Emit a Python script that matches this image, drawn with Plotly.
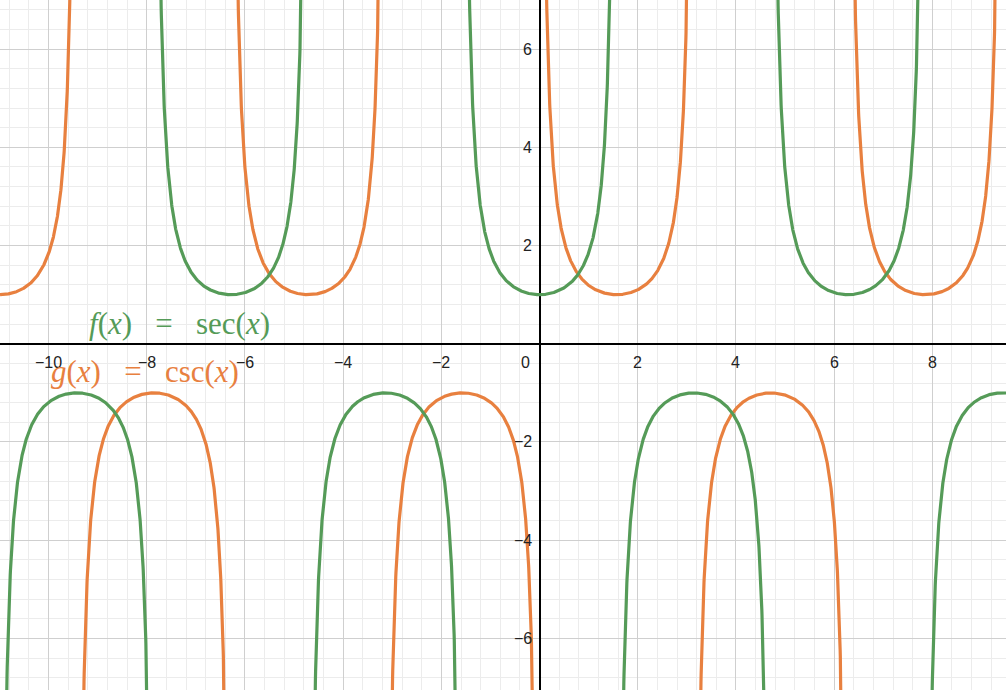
import numpy as np
import plotly.graph_objects as go

# Sampled x domain of the two plotted functions
x_min, x_max = -10.99, 9.50
y_min, y_max = -7.05, 7.0
x_vals = np.linspace(x_min, x_max, 6000)

# Tick labels (Desmos style, drawn beside the axes)
x_ticks = [-10, -8, -6, -4, -2, 2, 4, 6, 8]
y_ticks = [-6, -4, -2, 2, 4, 6]

green = "#559b58"
orange = "#e8803f"


def _broken(y, limit=60):
    """Break the line at the vertical asymptotes."""
    y = np.array(y, dtype=float)
    y[np.abs(y) > limit] = np.nan
    return y


sec_vals = _broken(1 / np.cos(x_vals))
csc_vals = _broken(1 / np.sin(x_vals))

fig = go.Figure()

fig.add_trace(go.Scatter(
    x=x_vals, y=csc_vals, mode="lines",
    line=dict(color=orange, width=3.2), hoverinfo="skip"
))
fig.add_trace(go.Scatter(
    x=x_vals, y=sec_vals, mode="lines",
    line=dict(color=green, width=3.2), hoverinfo="skip"
))

annotations = []
lab_font = dict(family="Arial, Liberation Sans, sans-serif", size=16, color="#222222")
for t in x_ticks:
    annotations.append(dict(
        x=t, y=0, xref="x", yref="y", text=f"\u2212{abs(t)}" if t < 0 else str(t),
        showarrow=False, yanchor="top", yshift=-8, font=lab_font
    ))
annotations.append(dict(
    x=0, y=0, xref="x", yref="y", text="0", showarrow=False,
    xanchor="right", yanchor="top", xshift=-8, yshift=-8, font=lab_font
))
for t in y_ticks:
    annotations.append(dict(
        x=0, y=t, xref="x", yref="y", text=f"\u2212{abs(t)}" if t < 0 else str(t),
        showarrow=False, xanchor="right", xshift=-6, font=lab_font
    ))

# Function labels
gap = "\u2002\u2005"
annotations.append(dict(
    x=-7.33, y=0.42, xref="x", yref="y",
    text=f"<i>f</i>(<i>x</i>){gap}={gap}sec(<i>x</i>)",
    showarrow=False, font=dict(family="Liberation Serif, serif", size=31, color=green)
))
annotations.append(dict(
    x=-8.03, y=-0.56, xref="x", yref="y",
    text=f"<i>g</i>(<i>x</i>){gap}={gap}csc(<i>x</i>)",
    showarrow=False, font=dict(family="Liberation Serif, serif", size=31, color=orange)
))

axis_common = dict(
    showticklabels=False, ticks="",
    showgrid=True, gridcolor="#cfcfcf", gridwidth=1,
    zeroline=True, zerolinecolor="#000000", zerolinewidth=1.5,
    showline=False,
    minor=dict(showgrid=True, gridcolor="#ececec", gridwidth=1, dtick=0.4),
)

fig.update_layout(
    width=1006, height=690,
    margin=dict(l=0, r=0, t=0, b=0),
    paper_bgcolor="white", plot_bgcolor="white",
    showlegend=False,
    xaxis=dict(range=[x_min, x_max], dtick=2, tick0=0, **axis_common),
    yaxis=dict(range=[y_min, y_max], dtick=2, tick0=0, **axis_common),
    annotations=annotations,
)

fig.write_html("out.html", config={"displayModeBar": False},
               post_script="document.body.style.margin='0';")
